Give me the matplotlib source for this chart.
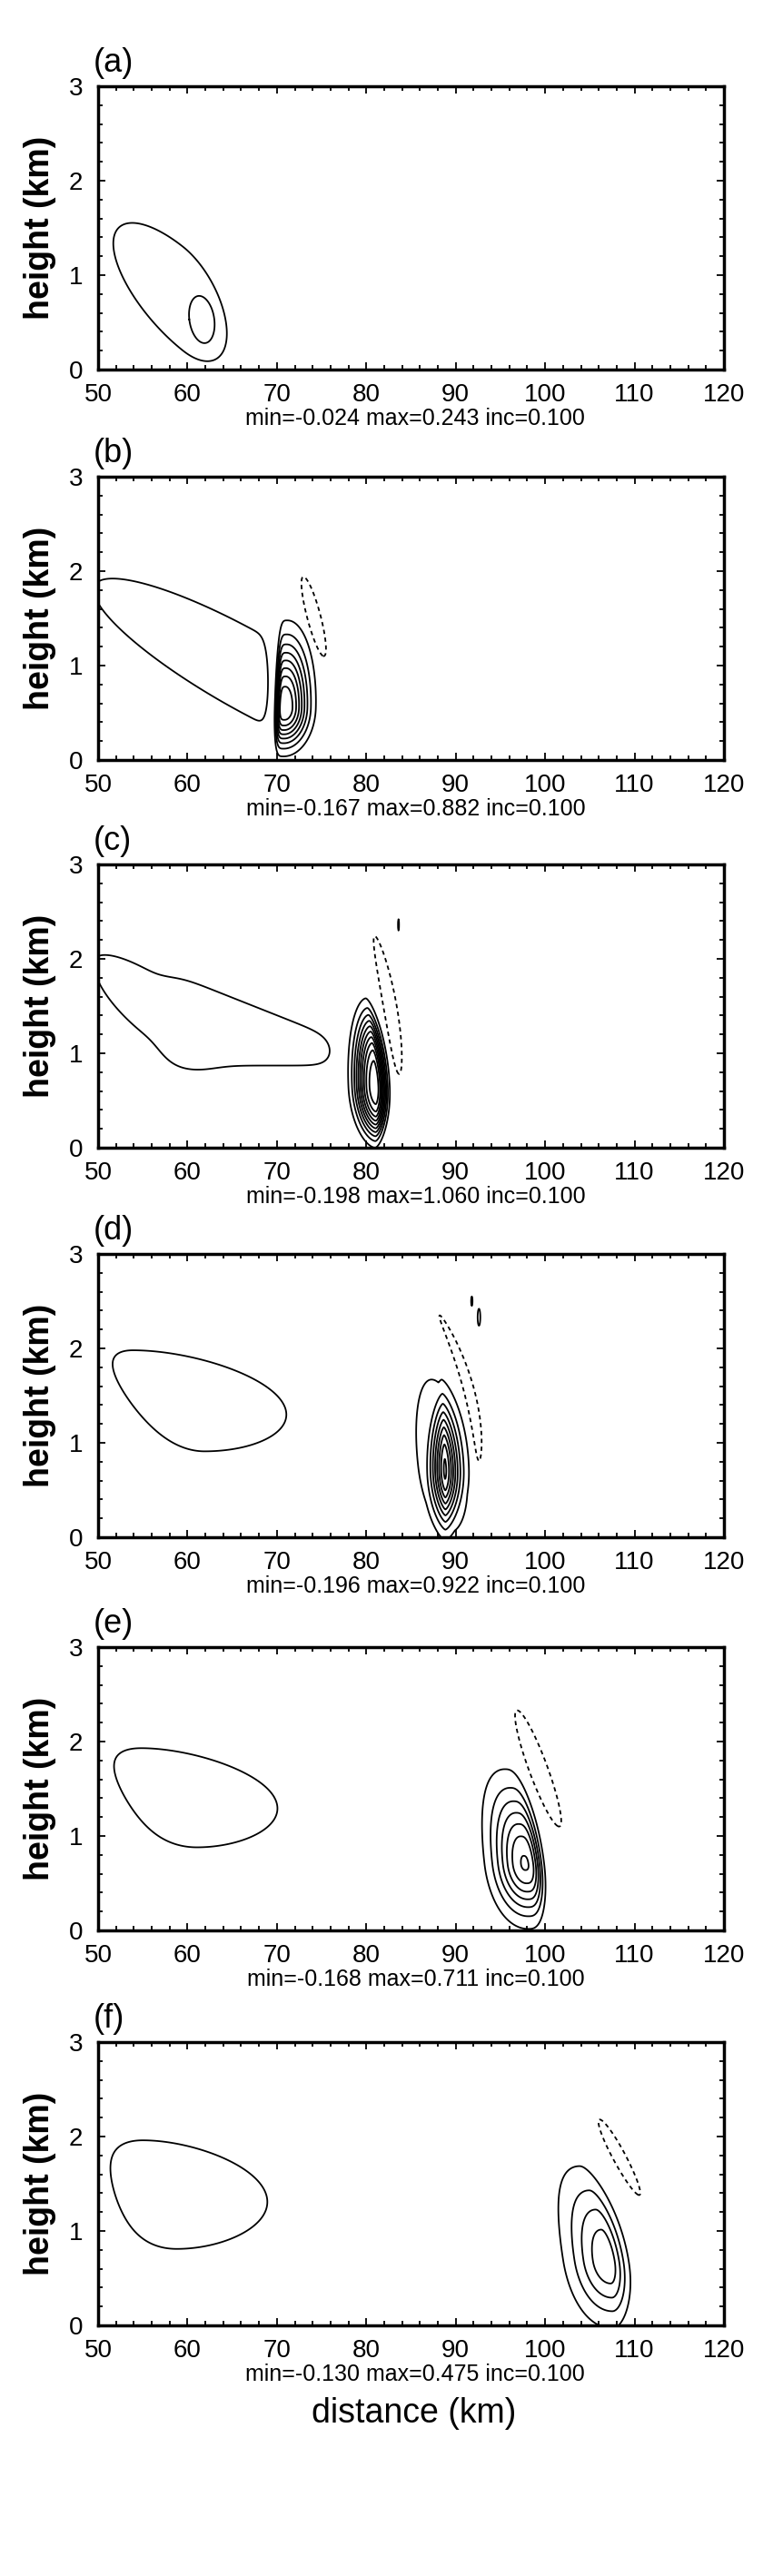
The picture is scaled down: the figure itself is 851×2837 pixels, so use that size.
import numpy as np
import matplotlib
matplotlib.use("Agg")
import matplotlib.pyplot as plt
from matplotlib.ticker import MultipleLocator

plt.rcParams['font.family'] = ['Liberation Sans', 'DejaVu Sans']

# ---------------------------------------------------------------
# panel data: contour statistics and the features of each field
# ---------------------------------------------------------------
panel_labels = ["(a)", "(b)", "(c)", "(d)", "(e)", "(f)"]
field_min = [-0.024, -0.167, -0.198, -0.196, -0.168, -0.130]
field_max = [0.243, 0.882, 1.060, 0.922, 0.711, 0.475]
contour_inc = 0.100

x_ticks = [50, 60, 70, 80, 90, 100, 110, 120]
z_ticks = [0, 1, 2, 3]

# each feature: amplitude, reference level (contour at r=1), centre,
# half widths left/right/down/up (km), vertical tilt k, thinning g,
# horizontal shear s and bend q, shape exponents n (right), nl (left), p
blobs_a = [
    dict(amp=0.15, ref=0.1, x0=59.5, z0=0.75, al=7.8, ar=4.9, bd=0.55, bu=0.55, k=-0.075),
    dict(amp=0.243, ref=0.2, x0=61.6, z0=0.53, al=1.4, ar=1.4, bd=0.25, bu=0.25, s=-1.2, p=3),
]
blobs_b = [
    dict(amp=0.15, ref=0.1, x0=66.5, z0=0.95, al=17.0, ar=2.5, bd=0.47, bu=0.47, k=-0.05,
         n=6, nl=2),
    dict(amp=0.882, ref=0.2, x0=70.9, z0=0.55, al=1.05, ar=2.9, bd=0.43, bu=0.78,
         s=0.3, n=2, nl=4, p=2.2),
    dict(amp=-0.167, ref=0.1, x0=74.1, z0=1.52, al=0.75, ar=0.80, bd=0.42, bu=0.42, s=-2.7),
]
blobs_c = [
    dict(amp=0.15, ref=0.1, x0=57.0, z0=1.5, al=7.5, ar=5.0, bd=0.42, bu=0.30, k=-0.06),
    dict(amp=0.15, ref=0.1, x0=66.0, z0=1.211, al=9.0, ar=9.9, bd=0.341, bu=0.341,
         k=-0.01875, g=-0.055, n=12, nl=6),
    dict(amp=1.06, ref=0.2, x0=81.0, z0=0.65, al=2.6, ar=1.4, bd=0.58, bu=0.83,
         s=-0.45, q=-0.74, n=1.6, p=3),
    dict(amp=-0.198, ref=0.1, x0=82.65, z0=1.5, al=0.75, ar=0.75, bd=0.72, bu=0.74,
         s=-1.85, q=-0.6),
    dict(amp=0.105, ref=0.1, x0=83.6, z0=2.36, al=0.06, ar=0.06, bd=0.06, bu=0.06),
]
blobs_d = [
    dict(amp=0.15, ref=0.1, x0=59.5, z0=1.445, al=6.0, ar=11.0, bd=0.535, bu=0.535,
         s=-7.48, q=-5.6),
    dict(amp=0.18, ref=0.1, x0=88.4, z0=0.75, al=2.6, ar=2.8, bd=0.70, bu=0.92, s=-1.2),
    dict(amp=0.922, ref=0.2, x0=88.8, z0=0.71, al=2.0, ar=2.1, bd=0.63, bu=0.81,
         s=-0.2, q=-0.2, n=1.4, p=2.2),
    dict(amp=-0.196, ref=0.1, x0=91.5, z0=1.55, al=0.6, ar=0.6, bd=0.74, bu=0.80,
         s=-2.75, q=-1.71),
    dict(amp=0.12, ref=0.1, x0=92.6, z0=2.33, al=0.15, ar=0.15, bd=0.09, bu=0.09),
    dict(amp=0.11, ref=0.1, x0=91.8, z0=2.50, al=0.08, ar=0.08, bd=0.05, bu=0.05),
]
blobs_e = [
    dict(amp=0.15, ref=0.1, x0=60.0, z0=1.41, al=7.0, ar=9.7, bd=0.53, bu=0.52, s=-6.0, q=-7.6),
    dict(amp=0.711, ref=0.2, x0=97.7, z0=0.70, al=3.6, ar=1.9, bd=0.55, bu=0.81,
         s=-1.24, q=-0.96, n=3, nl=2),
    dict(amp=-0.168, ref=0.1, x0=99.2, z0=1.72, al=1.1, ar=1.1, bd=0.62, bu=0.61, s=-3.8),
]
blobs_f = [
    dict(amp=0.15, ref=0.1, x0=59.0, z0=1.385, al=7.1, ar=9.8, bd=0.575, bu=0.575,
         s=-3.3, q=-6.35),
    dict(amp=0.475, ref=0.2, x0=107.0, z0=0.68, al=3.7, ar=1.75, bd=0.53, bu=0.75,
         s=-1.71, q=-1.4),
    dict(amp=-0.13, ref=0.1, x0=108.2, z0=1.80, al=0.8, ar=0.8, bd=0.42, bu=0.38, s=-5.5),
]
panel_blobs = [blobs_a, blobs_b, blobs_c, blobs_d, blobs_e, blobs_f]

# axes bottoms in figure pixels (851 x 2837), common axes height
ax_bottoms_px = [407, 837, 1264, 1693, 2126, 2561]
ax_left_px, ax_width_px, ax_height_px = 108, 689, 312
W, H = 851, 2837


def blob(X, Z, amp, ref, x0, z0, al, ar, bd, bu, k=0.0, g=0.0, s=0.0, q=0.0,
         n=2.0, nl=None, p=2.0):
    if nl is None:
        nl = n
    dz = Z - z0 - k * (X - x0)
    dx = X - x0 - s * dz - q * dz ** 2
    left = dx < 0
    a = np.where(left, al, ar)
    ex = np.where(left, nl, n)
    b = np.where(dz < 0, bd, bu) * np.clip(1 + g * (X - x0), 0.05, None)
    r2 = np.abs(dx / a) ** ex + (dz / b) ** 2
    return amp * np.exp(-np.log(abs(amp) / ref) * r2 ** (p / 2))


def build_field(X, Z, blobs):
    # weak single-contour features are joined smoothly, strong cores by max
    weak = np.zeros_like(X)
    strong = np.zeros_like(X)
    neg = np.zeros_like(X)
    for bl in blobs:
        f = blob(X, Z, **bl)
        if bl["amp"] < 0:
            neg = np.minimum(neg, f)
        elif bl["amp"] < 0.2:
            weak += f ** 4
        else:
            strong = np.maximum(strong, f)
    pos = np.maximum(weak ** 0.25, strong)
    return np.where(pos >= -neg, pos, neg)


xg = np.linspace(50, 120, 1401)
zg = np.linspace(0, 3, 601)
X, Z = np.meshgrid(xg, zg)

fig = plt.figure(figsize=(W / 100, H / 100), dpi=100)

for i, label in enumerate(panel_labels):
    bottom = 1 - ax_bottoms_px[i] / H
    ax = fig.add_axes([ax_left_px / W, bottom, ax_width_px / W, ax_height_px / H])

    field = build_field(X, Z, panel_blobs[i])
    pos_levels = contour_inc * np.arange(1, int(field_max[i] / contour_inc + 1e-9) + 1)
    ax.contour(X, Z, field, levels=pos_levels, colors="black", linewidths=1.3,
               linestyles="solid")
    if field_min[i] < -contour_inc:
        neg_levels = -contour_inc * np.arange(int(-field_min[i] / contour_inc + 1e-9), 0, -1)
        ax.contour(X, Z, field, levels=neg_levels, colors="black", linewidths=1.3,
                   linestyles=[(0, (2.6, 2.2))])

    ax.set_xlim(50, 120)
    ax.set_ylim(0, 3)
    ax.set_xticks(x_ticks)
    ax.set_yticks(z_ticks)
    ax.xaxis.set_minor_locator(MultipleLocator(2))
    ax.yaxis.set_minor_locator(MultipleLocator(0.2))
    ax.tick_params(which="both", direction="in", top=True, right=True, width=1.3)
    ax.tick_params(which="major", length=6, labelsize=20)
    ax.tick_params(axis="x", which="major", pad=11)
    ax.tick_params(axis="y", which="major", pad=12)
    ax.tick_params(which="minor", length=3.5)
    for sp in ax.spines.values():
        sp.set_linewidth(2.5)

    ax.set_ylabel("height (km)", fontsize=27, fontweight="bold", va="center")
    ax.yaxis.set_label_coords(-0.093, 0.5)

    ax.text(-0.008, 1.026, label, transform=ax.transAxes, fontsize=26,
            ha="left", va="bottom")
    ax.text(0.507, -0.172,
            f"min={field_min[i]:.3f} max={field_max[i]:.3f} inc={contour_inc:.3f}",
            transform=ax.transAxes, fontsize=18, ha="center", va="center")

    if i == len(panel_labels) - 1:
        ax.text(0.505, -0.311, "distance (km)", transform=ax.transAxes, fontsize=27,
                ha="center", va="center")

fig.savefig("out.png", dpi=100)
